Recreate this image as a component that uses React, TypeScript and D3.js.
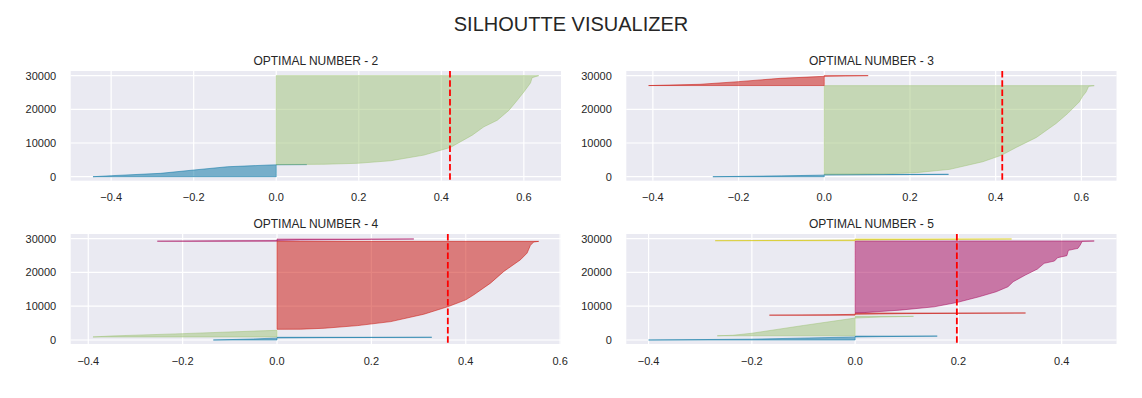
import React from 'react'
import * as d3 from 'd3'

// [sample position, silhouette value]
type Pt = [number, number]

const palette = ['#0272a2', '#9fc377', '#ca0b03', '#a50258', '#d7c703']

const k2Cluster0: Pt[] = [[0, -0.444], [300, -0.4], [1000, -0.28], [2000, -0.199], [2960, -0.118], [3550, 0], [3580, 0.04], [3600, 0.074]]
const k2Cluster1: Pt[] = [[3620, 0], [3640, 0.04], [3700, 0.116], [3980, 0.197], [4740, 0.2775], [6420, 0.358], [8690, 0.422], [12340, 0.475], [14800, 0.503], [16770, 0.5357], [19730, 0.564], [22690, 0.584], [25160, 0.6], [27820, 0.616], [29400, 0.62], [30000, 0.636]]

const k3Cluster0: Pt[] = [[0, -0.26], [250, -0.1], [480, 0], [560, 0.1], [700, 0.29]]
const k3Cluster1: Pt[] = [[720, 0], [760, 0.06], [850, 0.137], [1200, 0.215], [2190, 0.293], [4450, 0.37], [6420, 0.4145], [8700, 0.448], [11650, 0.495], [15800, 0.541], [18750, 0.568], [22200, 0.595], [23880, 0.603], [25160, 0.611], [26830, 0.617], [27030, 0.63]]
const k3Cluster2: Pt[] = [[27060, -0.41], [27430, -0.29], [28220, -0.2], [29200, -0.103], [29790, 0], [29900, 0.05], [30000, 0.1025]]

const k4Cluster0: Pt[] = [[0, -0.135], [300, -0.05], [600, 0], [700, 0.1], [800, 0.328]]
const k4Cluster1: Pt[] = [[900, -0.39], [1200, -0.35], [1880, -0.2], [2870, 0]]
const k4Cluster2: Pt[] = [[3170, 0], [3200, 0.05], [3470, 0.1], [4260, 0.171], [5440, 0.241], [7620, 0.311], [9900, 0.363], [11880, 0.4], [13370, 0.417], [16830, 0.4524], [20290, 0.4806], [23760, 0.516], [25740, 0.53], [28020, 0.537], [29010, 0.544], [29200, 0.5546]]
const k4Cluster3: Pt[] = [[29250, -0.2537], [29350, -0.12], [29450, 0], [29600, 0.05], [29800, 0.2], [29900, 0.29]]

const k5Cluster0: Pt[] = [[0, -0.4], [250, -0.2], [900, 0], [1000, 0.05], [1150, 0.159]]
const k5Cluster1: Pt[] = [[1250, -0.267], [1400, -0.237], [2000, -0.2], [4300, -0.1], [6500, 0], [6800, 0.05], [7000, 0.113]]
const k5Cluster2: Pt[] = [[7350, -0.166], [7450, -0.05], [7600, 0], [7800, 0.1], [7990, 0.33]]
const k5Cluster3: Pt[] = [[8050, 0], [8130, 0.019], [8830, 0.086], [9820, 0.153], [11100, 0.197], [12790, 0.24], [14270, 0.273], [15760, 0.296], [17240, 0.306], [19220, 0.3296], [21000, 0.353], [22690, 0.366], [23380, 0.386], [24370, 0.392], [24960, 0.41], [26540, 0.413], [27135, 0.4316], [28125, 0.436], [29200, 0.4396], [29310, 0.463]]
const k5Cluster4: Pt[] = [[29400, -0.271], [29500, -0.1], [29600, 0], [29750, 0.1], [29900, 0.303]]

const avgScores = [0.421, 0.4154, 0.362, 0.197]
const titles = ['OPTIMAL NUMBER - 2', 'OPTIMAL NUMBER - 3', 'OPTIMAL NUMBER - 4', 'OPTIMAL NUMBER - 5']
const xTicks = [
  [-0.4, -0.2, 0, 0.2, 0.4, 0.6],
  [-0.4, -0.2, 0, 0.2, 0.4, 0.6],
  [-0.4, -0.2, 0, 0.2, 0.4, 0.6],
  [-0.4, -0.2, 0, 0.2, 0.4],
]
const yTicks = [0, 10000, 20000, 30000]
const yLim = [-1185, 31380]

const panelClusters = [
  [k2Cluster0, k2Cluster1],
  [k3Cluster0, k3Cluster1, k3Cluster2],
  [k4Cluster0, k4Cluster1, k4Cluster2, k4Cluster3],
  [k5Cluster0, k5Cluster1, k5Cluster2, k5Cluster3, k5Cluster4],
]

const W = 1142
const H = 398
const cols = [{ left: 70.7, right: 561 }, { left: 626.3, right: 1116.5 }]
const rows = [{ top: 71, bottom: 180.7 }, { top: 234, bottom: 344 }]
const font = "'Liberation Sans', Arial, sans-serif"
const ink = '#262626'

const fmtX = d3.format('.1f')
const fmtY = d3.format('d')

function Panel({ i }: { i: number }) {
  const col = cols[i % 2]
  const row = rows[Math.floor(i / 2)]
  const clusters = panelClusters[i]

  // matplotlib-style autoscale: data extent plus 5% margin
  const vals = clusters.flatMap((c) => c.map((p) => p[1]))
  const [lo, hi] = d3.extent(vals) as [number, number]
  const pad = (hi - lo) * 0.05
  const x = d3.scaleLinear().domain([lo - pad, hi + pad]).range([col.left, col.right])
  const y = d3.scaleLinear().domain(yLim).range([row.bottom, row.top])

  const area = d3
    .area<Pt>()
    .x0(x(0))
    .x1((d) => x(d[1]))
    .y((d) => y(d[0]))

  return (
    <g>
      <rect x={col.left} y={row.top} width={col.right - col.left} height={row.bottom - row.top} fill="#EAEAF2" />
      {xTicks[i].map((t) => (
        <line key={'gx' + t} x1={x(t)} x2={x(t)} y1={row.top} y2={row.bottom} stroke="#fff" strokeWidth={1.2} />
      ))}
      {yTicks.map((t) => (
        <line key={'gy' + t} x1={col.left} x2={col.right} y1={y(t)} y2={y(t)} stroke="#fff" strokeWidth={1.2} />
      ))}
      {clusters.map((c, j) => (
        <path
          key={j}
          d={area(c) || ''}
          fill={palette[j]}
          fillOpacity={0.5}
          stroke={palette[j]}
          strokeOpacity={0.5}
          strokeWidth={1}
        />
      ))}
      <line
        x1={x(avgScores[i])}
        x2={x(avgScores[i])}
        y1={row.top}
        y2={row.bottom}
        stroke="red"
        strokeWidth={1.8}
        strokeDasharray="6.5 2.8"
      />
      {xTicks[i].map((t) => (
        <text key={'tx' + t} x={x(t)} y={row.bottom + 20.7} textAnchor="middle" fontSize={11} fill={ink}>
          {fmtX(t)}
        </text>
      ))}
      {yTicks.map((t) => (
        <text key={'ty' + t} x={col.left - 14.5} y={y(t)} dy="0.36em" textAnchor="end" fontSize={11} fill={ink}>
          {fmtY(t)}
        </text>
      ))}
      <text x={(col.left + col.right) / 2} y={row.top - 6.3} textAnchor="middle" fontSize={12} fill={ink}>
        {titles[i]}
      </text>
    </g>
  )
}

export default function App() {
  return (
    <svg
      width={W}
      height={H}
      fontFamily={font}
      style={{ position: 'absolute', left: 0, top: 0, background: '#fff' }}
    >
      <rect width={W} height={H} fill="#fff" />
      <text x={W / 2} y={31} textAnchor="middle" fontSize={20} fill={ink}>
        SILHOUTTE VISUALIZER
      </text>
      {[0, 1, 2, 3].map((i) => (
        <Panel key={i} i={i} />
      ))}
    </svg>
  )
}
